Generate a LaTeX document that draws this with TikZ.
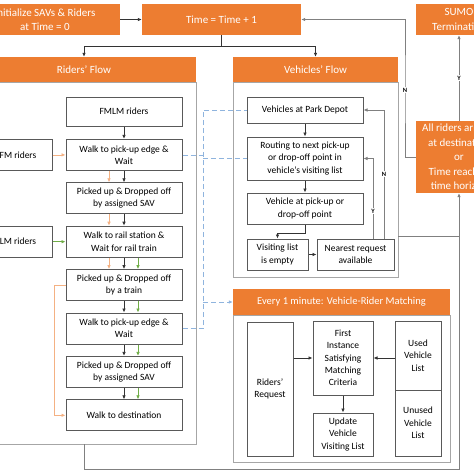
\documentclass[tikz,border=0pt]{standalone}
\usepackage{fontspec}
\setmainfont{Carlito}
\usetikzlibrary{arrows.meta}

\definecolor{simorange}{HTML}{ED7D31}
\definecolor{boxline}{HTML}{595959}
\definecolor{panelline}{HTML}{A6A6A6}
\definecolor{linkgray}{HTML}{808080}
\definecolor{fmorange}{HTML}{F4B183}
\definecolor{lmgreen}{HTML}{70AD47}
\definecolor{linkblue}{HTML}{8FB4DE}

\tikzset{
  hdr/.style={fill=simorange, text=white, align=center, inner sep=0pt,
    font=\fontsize{11}{14.5}\selectfont},
  panel/.style={draw=panelline, line width=0.9pt, fill=white, inner sep=0pt},
  bx/.style={draw=boxline, line width=1pt, fill=white, align=center, inner sep=0pt,
    font=\fontsize{9.5}{12.3}\selectfont},
  arr/.style={draw=black!80, line width=0.8pt, -{Latex[length=4pt,width=3.6pt]}},
  garr/.style={draw=linkgray, line width=0.8pt, -{Latex[length=4pt,width=3.6pt]}},
  gline/.style={draw=linkgray, line width=0.8pt},
  oarr/.style={draw=fmorange, line width=0.8pt, -{Latex[length=4pt,width=3.6pt]}},
  larr/.style={draw=lmgreen, line width=0.8pt, -{Latex[length=4pt,width=3.6pt]}},
  dsh/.style={draw=linkblue, line width=0.8pt, dash pattern=on 5pt off 3pt},
  lbl/.style={fill=white, inner sep=0.8pt, font=\fontsize{6.5}{7}\bfseries\selectfont}
}

\begin{document}
\begin{tikzpicture}[x=1pt,y=-1pt]
    \useasboundingbox (0,0) rectangle (474,474);

    % top row
    \node[hdr, minimum width=150pt, minimum height=31pt] (init) at (45,19.5) {Initialize SAVs \& Riders\\at Time = 0};
    \node[hdr, minimum width=159pt, minimum height=31pt] (time) at (221.5,19.5) {Time = Time + 1};
    \node[hdr, minimum width=86pt, minimum height=31pt] (sumo) at (459,19.5) {SUMO\\Termination};
    \node[hdr, minimum width=86pt, minimum height=72pt] (allr) at (459,157) {All riders arrived\\at destination\\or\\Time reached\\time horizon};

    % panels
    \node[panel, minimum width=224pt, minimum height=362pt] (rpanel) at (84,263) {};
    \node[hdr, minimum width=224pt, minimum height=25pt] (rhdr) at (84,69.5) {Riders' Flow};
    \node[panel, minimum width=165pt, minimum height=195pt] (vpanel) at (315.5,179.5) {};
    \node[hdr, minimum width=165pt, minimum height=25pt] (vhdr) at (315.5,69.5) {Vehicles' Flow};
    \node[panel, minimum width=217pt, minimum height=147pt] (mpanel) at (341.5,388.5) {};
    \node[hdr, minimum width=217pt, minimum height=26pt, font=\fontsize{10.5}{13}\selectfont] (mhdr) at (341.5,302) {Every 1 minute: Vehicle-Rider Matching};

    % riders' flow
    \node[bx, minimum width=116pt, minimum height=29pt] (fmlm) at (124,111.5) {FMLM riders};
    \node[bx, minimum width=116pt, minimum height=31pt] (walkA) at (124,154.9) {Walk to pick-up edge \&\\Wait};
    \node[bx, minimum width=116pt, minimum height=31pt] (savA) at (124,198.3) {Picked up \& Dropped off\\by assigned SAV};
    \node[bx, minimum width=116pt, minimum height=31pt] (rail) at (124,241.7) {Walk to rail station \&\\Wait for rail train};
    \node[bx, minimum width=116pt, minimum height=31pt] (train) at (124,285.1) {Picked up \& Dropped off\\by a train};
    \node[bx, minimum width=116pt, minimum height=31pt] (walkB) at (124,328.5) {Walk to pick-up edge \&\\Wait};
    \node[bx, minimum width=116pt, minimum height=31pt] (savB) at (124,371.9) {Picked up \& Dropped off\\by assigned SAV};
    \node[bx, minimum width=116pt, minimum height=31pt] (dest) at (124,415.3) {Walk to destination};
    \node[bx, minimum width=68pt, minimum height=31pt] (fm) at (18,154.9) {FM riders};
    \node[bx, minimum width=68pt, minimum height=31pt] (lm) at (18,241.7) {LM riders};

    \draw[arr] (fmlm) -- (walkA);
    \draw[arr] (walkA) -- (savA);
    \draw[arr] (savA) -- (rail);
    \draw[arr] (rail) -- (train);
    \draw[arr] (train) -- (walkB);
    \draw[arr] (walkB) -- (savB);
    \draw[arr] (savB) -- (dest);

    \draw[oarr] (fm) -- (walkA);
    \draw[oarr] ([xshift=-15pt]walkA.south) -- ([xshift=-15pt]savA.north);
    \draw[oarr] ([xshift=-15pt]savA.south) -- ([xshift=-15pt]rail.north);
    \draw[oarr] ([xshift=-15pt]rail.south) -- ([xshift=-15pt]train.north);
    \draw[oarr] (train.west) -- ++(-11,0) |- (dest.west);

    \draw[larr] (lm) -- (rail);
    \draw[larr] ([xshift=14pt]rail.south) -- ([xshift=14pt]train.north);
    \draw[larr] ([xshift=14pt]train.south) -- ([xshift=14pt]walkB.north);
    \draw[larr] ([xshift=14pt]walkB.south) -- ([xshift=14pt]savB.north);
    \draw[larr] ([xshift=14pt]savB.south) -- ([xshift=14pt]dest.north);

    % vehicles' flow
    \node[bx, minimum width=116pt, minimum height=26pt] (depot) at (305,110) {Vehicles at Park Depot};
    \node[bx, minimum width=116pt, minimum height=43pt] (routing) at (305,158.5) {Routing to next pick-up\\or drop-off point in\\vehicle's visiting list};
    \node[bx, minimum width=116pt, minimum height=31pt] (vpoint) at (305,208.5) {Vehicle at pick-up or\\drop-off point};
    \node[bx, minimum width=61pt, minimum height=31pt] (empty) at (277.5,254.5) {Visiting list\\is empty};
    \node[bx, minimum width=77pt, minimum height=31pt] (nearest) at (355.5,254.5) {Nearest request\\available};

    \draw[arr] (depot) -- (routing);
    \draw[arr] (routing) -- (vpoint);
    \draw[arr] (vpoint.south) -- ++(0,9) -| (empty.north);
    \draw[arr] (empty) -- (nearest);
    \draw[garr] ([xshift=17.5pt]nearest.north) |- node[pos=0.17, lbl] {Y} (routing.east);
    \draw[garr] ([xshift=28.5pt]nearest.north) |- node[pos=0.25, lbl] {N} (depot.east);

    % vehicle-rider matching
    \node[bx, minimum width=46pt, minimum height=134pt] (request) at (270,389) {Riders'\\Request};
    \node[bx, minimum width=60pt, minimum height=74pt] (first) at (343,358) {First\\Instance\\Satisfying\\Matching\\Criteria};
    \node[bx, minimum width=60pt, minimum height=43pt] (update) at (343,434.5) {Update\\Vehicle\\Visiting List};
    \node[bx, minimum width=46pt, minimum height=69pt] (used) at (418,355.5) {Used\\Vehicle\\List};
    \node[bx, minimum width=46pt, minimum height=66pt] (unused) at (418,423) {Unused\\Vehicle\\List};

    \draw[arr] (request.east |- first.west) -- (first.west);
    \draw[arr] (used.west |- first.east) -- (first.east);
    \draw[arr] (first) -- (update);

    % links between flows
    \coordinate (dtop) at (203,110);
    \draw[dsh] (walkB.east) -| (dtop) -- (depot.west);
    \draw[dsh] (walkA.east) -- (walkA.east -| dtop) |- (routing.west);
    \draw[dsh, -{Latex[length=4pt,width=3.6pt]}] (mhdr.west -| dtop) -- (mhdr.west);

    % main loop
    \draw[arr] (init) -- (time);
    \coordinate (tsplit) at (221.5,46);
    \draw[arr] (time.south) -- (tsplit) -| (rhdr.north);
    \draw[arr] (tsplit) -| (vhdr.north);

    \coordinate (nbend) at (405,90);
    \draw[garr] (allr.west) -| (nbend) node[lbl] {N} |- (time.east);
    \draw[garr] (allr.north) -- node[lbl] {Y} (sumo.south);

    \coordinate (bbend) at (459,469);
    \coordinate (vjoin) at (459,236);
    \draw[garr] (rpanel.south) |- (bbend) -- (allr.south);
    \draw[gline] (vpanel.east |- vjoin) -- (vjoin);
\end{tikzpicture}
\end{document}
